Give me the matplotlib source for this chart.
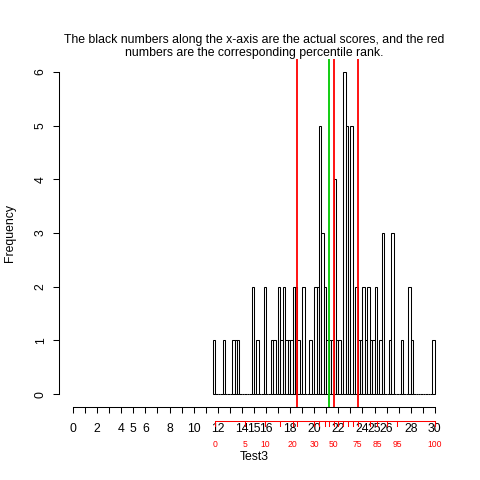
import numpy as np
import matplotlib
matplotlib.use('Agg')
import matplotlib.pyplot as plt

plt.rcParams['font.family'] = ['Liberation Sans', 'DejaVu Sans']

# ---- data ----
bin_start = 11.6
bin_width = 0.2
counts = [1, 0, 0, 0, 1, 0, 0, 0, 1, 1,
          1, 0, 0, 0, 0, 0, 2, 0, 1, 0,
          0, 2, 0, 0, 1, 1, 0, 2, 1, 2,
          1, 1, 1, 2, 2, 1, 0, 2, 0, 0,
          1, 0, 2, 2, 5, 3, 2, 1, 1, 1,
          4, 1, 1, 0, 6, 5, 0, 5, 0, 2,
          1, 1, 2, 1, 2, 1, 1, 2, 0, 1,
          3, 0, 0, 1, 3, 0, 0, 0, 1, 0,
          0, 2, 1, 0, 0, 0, 0, 0, 0, 0,
          0, 1]

x_ticks = list(range(0, 31))
x_labels = [0, 2, 4, 5, 6, 8, 10, 12, 14, 15, 16, 18, 20, 22, 24, 25, 26, 28, 30]

# quartiles (red) and mean (green)
quartiles = [18.6, 21.6, 23.6]
mean_score = 21.2

# percentile ranks and the score where each falls
pct_ranks = [0, 5, 10, 15, 20, 25, 30, 35, 40, 45, 50,
             55, 60, 65, 70, 75, 80, 85, 90, 95, 100]
pct_scores = [11.8, 14.3, 15.9, 17.2, 18.2, 18.6, 20.0, 20.4, 20.9, 21.2, 21.6,
              22.0, 22.4, 22.8, 23.2, 23.6, 24.6, 25.2, 26.0, 26.9, 30.0]
pct_shown = [0, 5, 10, 20, 30, 50, 75, 85, 95, 100]

title = ("The black numbers along the x-axis are the actual scores, and the red\n"
         "numbers are the corresponding percentile rank.")

# ---- plot ----
fig = plt.figure(figsize=(4.8, 4.8), dpi=100)
ax = fig.add_axes([0.122, 0.152, 0.814, 0.725])

left_edges = bin_start + bin_width * np.arange(len(counts))
ax.bar(left_edges, counts, width=bin_width, align='edge',
       facecolor='none', edgecolor='black', linewidth=0.75)

for q in quartiles:
    ax.axvline(q, color='red', linewidth=1.3)
ax.axvline(mean_score, color='#00c800', linewidth=1.3)

ax.set_xlim(-1.2, 31.2)
ax.set_ylim(-0.24, 6.24)

for s in ['top', 'right']:
    ax.spines[s].set_visible(False)
ax.spines['left'].set_bounds(0, 6)
ax.spines['bottom'].set_bounds(0, 30)
ax.spines['left'].set_linewidth(0.75)
ax.spines['bottom'].set_linewidth(0.75)

ax.set_xticks(x_ticks)
ax.set_xticklabels([str(v) if v in x_labels else '' for v in x_ticks])
ax.set_yticks(range(0, 7))
ax.set_yticklabels([str(v) for v in range(0, 7)], rotation=90, va='center')
ax.tick_params(axis='both', direction='out', length=4.5, width=0.75,
               labelsize=8.8)
ax.tick_params(axis='x', pad=7)
ax.tick_params(axis='y', pad=4)

# red percentile-rank axis below the score axis
tr = ax.get_xaxis_transform()
ax.plot([pct_scores[0], pct_scores[-1]], [-0.039, -0.039], color='red',
        linewidth=0.75, transform=tr, clip_on=False)
for p, s in zip(pct_ranks, pct_scores):
    ax.plot([s, s], [-0.039, -0.055], color='red', linewidth=0.75,
            transform=tr, clip_on=False)
    if p in pct_shown:
        ax.text(s, -0.108, str(p), color='red', fontsize=6.2,
                ha='center', va='center', transform=tr)

fig.text(254 / 480, 1 - 46.5 / 480, title, ha='center', va='center',
         fontsize=8.85, linespacing=1.1)
fig.text(254 / 480, 1 - 457 / 480, 'Test3', ha='center', va='center',
         fontsize=8.8)
fig.text(10 / 480, 1 - 233 / 480, 'Frequency', ha='center', va='center',
         rotation=90, fontsize=8.8)

fig.savefig('out.png', dpi=100)
